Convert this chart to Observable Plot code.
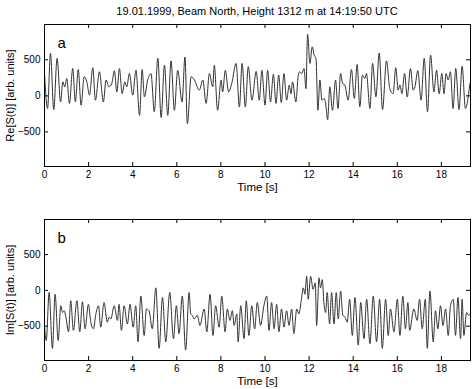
<!DOCTYPE html>
<html><head><meta charset="utf-8">
<script src="https://cdn.jsdelivr.net/npm/d3@7"></script>
<script src="https://cdn.jsdelivr.net/npm/@observablehq/plot@0.6"></script>
<style>
body{margin:0;background:#fff;font-family:"Liberation Sans",Arial,sans-serif;}
#title{height:20px;line-height:22px;font-size:11px;text-align:center;padding-left:40px;width:474px;box-sizing:border-box;color:#000;}
svg{display:block}
</style></head><body>
<div id="title">19.01.1999, Beam North, Height 1312 m at 14:19:50 UTC</div>
<div id="chart"></div>
<script>
const reTime = [0.00,0.14,0.27,0.42,0.57,0.73,0.83,0.92,1.01,1.13,1.28,1.40,1.53,1.66,1.80,1.92,2.04,2.19,2.31,2.49,2.67,2.79,2.92,3.05,3.17,3.28,3.40,3.52,3.64,3.73,3.85,4.00,4.15,4.31,4.43,4.53,4.68,4.83,4.98,5.14,5.29,5.44,5.59,5.74,5.89,6.04,6.24,6.37,6.48,6.65,6.80,7.02,7.18,7.33,7.48,7.63,7.70,7.85,8.01,8.08,8.20,8.35,8.49,8.69,8.84,8.96,9.11,9.24,9.41,9.60,9.74,9.86,10.00,10.12,10.25,10.38,10.50,10.62,10.74,10.86,10.98,11.10,11.18,11.25,11.40,11.51,11.58,11.67,11.77,11.86,11.93,12.04,12.14,12.23,12.31,12.40,12.49,12.58,12.69,12.76,12.84,12.94,13.06,13.20,13.31,13.43,13.52,13.62,13.77,13.92,14.05,14.18,14.30,14.42,14.53,14.60,14.76,14.88,15.03,15.18,15.33,15.51,15.66,15.81,15.93,16.04,16.12,16.21,16.33,16.45,16.60,16.72,16.80,16.93,17.08,17.22,17.37,17.51,17.66,17.78,17.90,18.02,18.12,18.21,18.31,18.41,18.53,18.65,18.80,18.94,19.09,19.29];
const reValue = [310,-175,590,-190,520,-85,195,125,240,-105,380,-85,365,-130,265,195,10,390,-60,335,-85,220,125,170,350,55,380,30,195,125,310,10,355,-270,365,-15,220,310,-220,520,-300,425,-270,485,-200,355,-85,540,-385,265,220,80,220,-105,310,125,425,-200,220,55,355,55,170,450,-155,450,-155,405,-60,340,-60,355,-130,355,-85,300,-105,290,-95,310,-60,150,30,195,-85,290,335,310,380,100,855,450,680,565,520,-200,220,-60,-35,-130,-330,125,-200,220,-175,310,170,150,-60,365,-35,435,-155,290,240,310,-175,450,-15,595,-190,485,100,30,390,80,150,30,310,-15,380,80,125,350,-60,520,-220,565,55,355,30,310,30,310,220,335,-175,380,-190,410,-175,170];
const imTime = [0.00,0.08,0.21,0.36,0.48,0.62,0.74,0.82,0.89,0.97,1.09,1.19,1.31,1.47,1.60,1.72,1.84,1.99,2.10,2.22,2.33,2.45,2.55,2.70,2.85,2.93,3.01,3.16,3.31,3.38,3.49,3.61,3.76,3.88,4.02,4.14,4.24,4.37,4.52,4.62,4.74,4.89,5.05,5.20,5.35,5.50,5.68,5.85,5.98,6.10,6.25,6.40,6.56,6.63,6.71,6.78,6.93,7.05,7.24,7.36,7.51,7.64,7.76,7.92,8.04,8.19,8.29,8.41,8.52,8.60,8.72,8.78,8.90,9.05,9.15,9.27,9.40,9.53,9.65,9.80,9.95,10.08,10.18,10.30,10.41,10.53,10.63,10.75,10.86,10.98,11.09,11.21,11.31,11.44,11.54,11.65,11.74,11.81,11.89,11.96,12.07,12.18,12.28,12.34,12.45,12.52,12.60,12.67,12.75,12.82,12.93,13.02,13.13,13.23,13.32,13.43,13.53,13.63,13.73,13.84,13.96,14.08,14.23,14.34,14.49,14.61,14.76,14.91,15.06,15.20,15.32,15.47,15.59,15.69,15.85,16.00,16.12,16.25,16.37,16.48,16.56,16.75,16.90,17.01,17.13,17.27,17.36,17.48,17.63,17.73,17.84,17.96,18.07,18.19,18.31,18.41,18.54,18.64,18.75,18.87,18.94,19.02,19.14,19.25,19.32];
const imValue = [-490,-700,-30,-810,-55,-700,-215,-310,-285,-375,-580,-145,-560,-145,-580,-160,-537,-195,-445,-537,-330,-215,-515,-170,-445,-375,-400,-215,-420,-195,-560,-215,-470,-195,-515,-215,-720,-80,-630,-260,-285,-537,35,-810,-100,-720,-30,-675,-215,-605,-80,-835,-30,-330,-350,-400,-350,-490,-260,-580,-55,-630,-215,-515,-80,-580,-260,-420,-285,-490,-330,-720,-215,-675,-145,-630,-215,-537,-170,-490,-215,-80,-560,-170,-537,-195,-580,-260,-515,-285,-490,-260,-605,-260,-330,-125,35,-55,195,-125,195,15,105,-490,175,35,150,-170,-310,-30,-470,-30,-470,-30,-400,-10,-350,-375,-445,-125,-630,-100,-765,-170,-675,-125,-745,-80,-720,-125,-810,-125,-630,-260,-580,-125,-630,-80,-537,-170,-560,-260,-420,-125,-537,-125,-810,-10,-720,-285,-537,-215,-490,-260,-630,-215,-125,-630,-100,-675,-125,-630,-310,-350,-330];
const xTicks = [0,2,4,6,8,10,12,14,16,18];
const yTicks = [-500,0,500];
const xLabel = "Time [s]";

function panel(times, values, letter, ylabel, height, mt) {
  const data = times.map((t, i) => ({t, v: values[i]}));
  const mb = 29, ml = 44, mr = 4;
  const ih = height - mt - mb, iw = 474 - ml - mr;
  return Plot.plot({
    width: 474, height, marginTop: mt, marginBottom: mb, marginLeft: ml, marginRight: mr,
    style: {fontFamily: "'Liberation Sans', Arial, sans-serif", fontSize: "10px", color: "#000", background: "#fff", overflow: "visible"},
    x: {domain: [0, 19.32]},
    y: {domain: [-980, 990]},
    marks: [
      Plot.line(data, {x: "t", y: "v", curve: "monotone-x", stroke: "#333", strokeWidth: 1}),
      Plot.frame({stroke: "#000"}),
      Plot.tickX(xTicks, {x: d => d, insetTop: ih - 4, stroke: "#000"}),
      Plot.tickX(xTicks, {x: d => d, insetBottom: ih - 4, stroke: "#000"}),
      Plot.tickY(yTicks, {y: d => d, insetRight: iw - 4, stroke: "#000"}),
      Plot.tickY(yTicks, {y: d => d, insetLeft: iw - 4, stroke: "#000"}),
      Plot.axisX(xTicks, {tickSize: 0, tickPadding: 4, label: null, fontSize: 10}),
      Plot.axisY(yTicks, {tickSize: 0, tickPadding: 4, label: null, fontSize: 10}),
      Plot.text([xLabel], {text: d => d, frameAnchor: "bottom", dy: 21, lineAnchor: "middle", textAnchor: "middle", fontSize: 11.5, fill: "#000"}),
      Plot.text([ylabel], {text: d => d, frameAnchor: "left", dx: -34, rotate: -90, lineAnchor: "middle", textAnchor: "middle", fontSize: 11, fill: "#000"}),
      Plot.text([letter], {text: d => d, frameAnchor: "top-left", dx: 13, dy: 13, fontSize: 15, textAnchor: "start", lineAnchor: "top"})
    ]
  });
}
const chart = document.getElementById("chart");
chart.appendChild(panel(reTime, reValue, "a", "Re[S(t)] [arb. units]", 175, 4));
chart.appendChild(panel(imTime, imValue, "b", "Im[S(t)] [arb. units]", 194, 24));
</script>
</body></html>
